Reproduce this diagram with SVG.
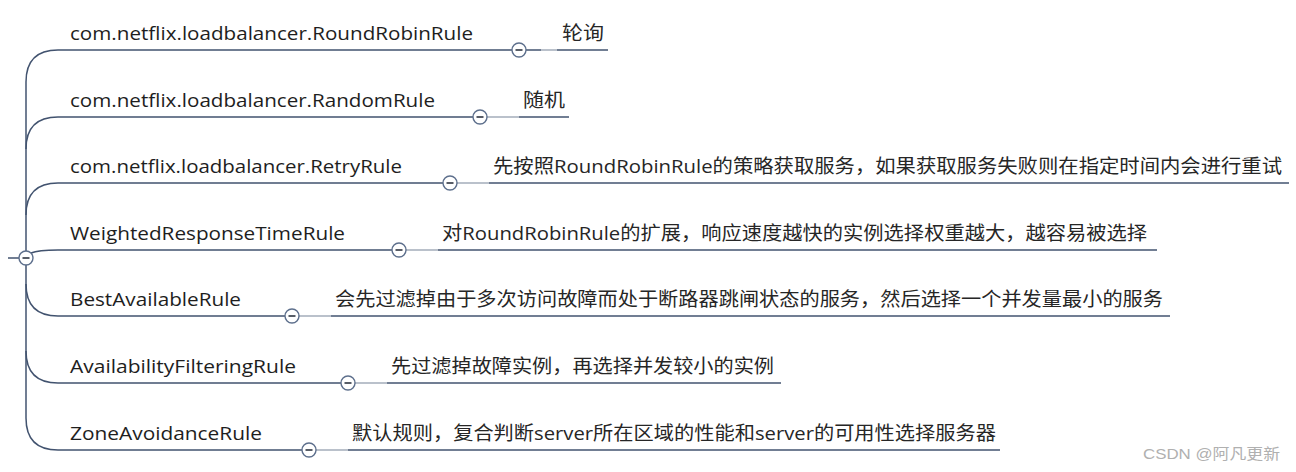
<svg xmlns="http://www.w3.org/2000/svg" width="1296" height="472" viewBox="0 0 1296 472">
<style>
.ln{fill:none;stroke:#42536f;stroke-width:1.5}
.lt{fill:none;stroke:#a3adba;stroke-width:1.5}
.btn circle{fill:#fff;stroke:#5d6f8c;stroke-width:1.4}
.btn line{stroke:#2d3440;stroke-width:1.6}
.t{font-family:"Open Sans","Noto Sans",sans-serif;font-size:19px;fill:#1e1e1e}
.a{font-family:"Open Sans","Noto Sans CJK SC",sans-serif;font-size:19px;fill:#262626}
.wm{font-family:"Liberation Sans","Noto Sans CJK SC",sans-serif;font-size:15px;fill:#b0b0b0}
</style>
<rect width="1296" height="472" fill="#fff"/>
<g id="connectors">
<path class="ln" d="M8,258 H19"/>
<path class="ln" d="M26,82 V418"/>
<path class="ln" d="M26,82 Q26,50 58,50 H512"/>
<path class="ln" d="M26,149 Q26,117 58,117 H473"/>
<path class="ln" d="M26,215 Q26,183 58,183 H443"/>
<path class="ln" d="M31,253 Q38,250 58,250 H392"/>
<path class="ln" d="M26,284 Q26,316 58,316 H285"/>
<path class="ln" d="M26,351 Q26,383 58,383 H341"/>
<path class="ln" d="M26,418 Q26,450 58,450 H302"/>
<path class="ln" d="M526,50 H541"/><path class="lt" d="M541,50 H557"/><path class="ln" d="M557,50 H608"/>
<path class="lt" d="M487,117 H519"/><path class="ln" d="M519,117 H569"/>
<path class="lt" d="M457,183 H489"/><path class="ln" d="M489,183 H1289"/>
<path class="lt" d="M406,250 H438"/><path class="ln" d="M438,250 H1157"/>
<path class="lt" d="M299,316 H331"/><path class="ln" d="M331,316 H1170"/>
<path class="lt" d="M355,383 H387"/><path class="ln" d="M387,383 H781"/>
<path class="lt" d="M316,450 H348"/><path class="ln" d="M348,450 H1000"/>
</g>
<g id="root" class="btn"><circle cx="26" cy="258" r="7"/><line x1="22.5" y1="258" x2="29.5" y2="258"/></g>
<g id="n1">
<text class="t" x="70" y="40" textLength="403" lengthAdjust="spacingAndGlyphs">com.netflix.loadbalancer.RoundRobinRule</text>
<g class="btn"><circle cx="519" cy="50" r="7"/><line x1="515.5" y1="50" x2="522.5" y2="50"/></g>
<text class="a" x="562" y="40" textLength="42" lengthAdjust="spacingAndGlyphs">轮询</text>
</g>
<g id="n2">
<text class="t" x="70" y="107" textLength="365" lengthAdjust="spacingAndGlyphs">com.netflix.loadbalancer.RandomRule</text>
<g class="btn"><circle cx="480" cy="117" r="7"/><line x1="476.5" y1="117" x2="483.5" y2="117"/></g>
<text class="a" x="523" y="107" textLength="42" lengthAdjust="spacingAndGlyphs">随机</text>
</g>
<g id="n3">
<text class="t" x="70" y="173" textLength="332" lengthAdjust="spacingAndGlyphs">com.netflix.loadbalancer.RetryRule</text>
<g class="btn"><circle cx="450" cy="183" r="7"/><line x1="446.5" y1="183" x2="453.5" y2="183"/></g>
<text class="a" x="493" y="173" textLength="789" lengthAdjust="spacingAndGlyphs">先按照RoundRobinRule的策略获取服务，如果获取服务失败则在指定时间内会进行重试</text>
</g>
<g id="n4">
<text class="t" x="70" y="240" textLength="275" lengthAdjust="spacingAndGlyphs">WeightedResponseTimeRule</text>
<g class="btn"><circle cx="399" cy="250" r="7"/><line x1="395.5" y1="250" x2="402.5" y2="250"/></g>
<text class="a" x="442" y="240" textLength="705" lengthAdjust="spacingAndGlyphs">对RoundRobinRule的扩展，响应速度越快的实例选择权重越大，越容易被选择</text>
</g>
<g id="n5">
<text class="t" x="70" y="306" textLength="171" lengthAdjust="spacingAndGlyphs">BestAvailableRule</text>
<g class="btn"><circle cx="292" cy="316" r="7"/><line x1="288.5" y1="316" x2="295.5" y2="316"/></g>
<text class="a" x="335" y="306" textLength="828" lengthAdjust="spacingAndGlyphs">会先过滤掉由于多次访问故障而处于断路器跳闸状态的服务，然后选择一个并发量最小的服务</text>
</g>
<g id="n6">
<text class="t" x="70" y="373" textLength="226" lengthAdjust="spacingAndGlyphs">AvailabilityFilteringRule</text>
<g class="btn"><circle cx="348" cy="383" r="7"/><line x1="344.5" y1="383" x2="351.5" y2="383"/></g>
<text class="a" x="391" y="373" textLength="383" lengthAdjust="spacingAndGlyphs">先过滤掉故障实例，再选择并发较小的实例</text>
</g>
<g id="n7">
<text class="t" x="70" y="440" textLength="192" lengthAdjust="spacingAndGlyphs">ZoneAvoidanceRule</text>
<g class="btn"><circle cx="309" cy="450" r="7"/><line x1="305.5" y1="450" x2="312.5" y2="450"/></g>
<text class="a" x="352" y="440" textLength="644" lengthAdjust="spacingAndGlyphs">默认规则，复合判断server所在区域的性能和server的可用性选择服务器</text>
</g>
<g id="watermark">
<text class="wm" x="1143" y="459" textLength="137" lengthAdjust="spacingAndGlyphs">CSDN @阿凡更新</text>
</g>
</svg>
